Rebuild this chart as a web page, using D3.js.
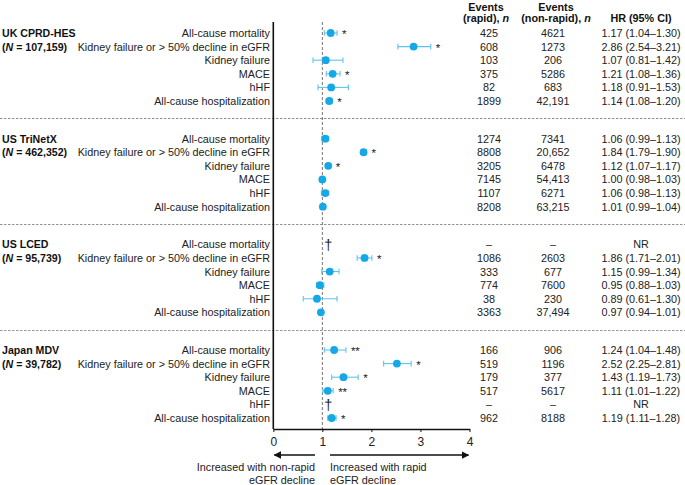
<!DOCTYPE html>
<html>
<head>
<meta charset="utf-8">
<script src="https://cdn.jsdelivr.net/npm/d3@7"></script>
<style>
  html, body { margin: 0; padding: 0; background: #fff; }
  svg { display: block; font-family: "Liberation Sans", Arial, sans-serif; }
</style>
</head>
<body>
<svg id="chart" width="685" height="485"></svg>
<script>
// ---- data ----
const groups = ["UK CPRD-HES", "US TriNetX", "US LCED", "Japan MDV"];
const groupN = ["107,159", "462,352", "95,739", "39,782"];
const outcomes = ["All-cause mortality", "Kidney failure or > 50% decline in eGFR", "Kidney failure", "MACE", "hHF", "All-cause hospitalization"];
const hr = [[1.17, 2.86, 1.07, 1.21, 1.18, 1.14],
            [1.06, 1.84, 1.12, 1.00, 1.06, 1.01],
            [null, 1.86, 1.15, 0.95, 0.89, 0.97],
            [1.24, 2.52, 1.43, 1.11, null, 1.19]];
const ciLow = [[1.04, 2.54, 0.81, 1.08, 0.91, 1.08],
               [0.99, 1.79, 1.07, 0.98, 0.98, 0.99],
               [null, 1.71, 0.99, 0.88, 0.61, 0.94],
               [1.04, 2.25, 1.19, 1.01, null, 1.11]];
const ciHigh = [[1.30, 3.21, 1.42, 1.36, 1.53, 1.20],
                [1.13, 1.90, 1.17, 1.03, 1.13, 1.04],
                [null, 2.01, 1.34, 1.03, 1.30, 1.01],
                [1.48, 2.81, 1.73, 1.22, null, 1.28]];
const eventsRapid = [["425", "608", "103", "375", "82", "1899"],
                     ["1274", "8808", "3205", "7145", "1107", "8208"],
                     ["–", "1086", "333", "774", "38", "3363"],
                     ["166", "519", "179", "517", "–", "962"]];
const eventsNonRapid = [["4621", "1273", "206", "5286", "683", "42,191"],
                        ["7341", "20,652", "6478", "54,413", "6271", "63,215"],
                        ["–", "2603", "677", "7600", "230", "37,494"],
                        ["906", "1196", "377", "5617", "–", "8188"]];
const signif = [["*", "*", "", "*", "", "*"],
                ["", "*", "*", "", "", ""],
                ["†", "*", "", "", "", ""],
                ["**", "*", "*", "**", "†", "*"]];
const xTicks = [0, 1, 2, 3, 4];

// ---- layout ----
const svg = d3.select("#chart");
const W = 685;
const groupStep = 7.77;   // row slots per group
const x = d3.scaleLinear().domain([0, 4]).range([273.3, 469.5]);
const y = d3.scaleLinear().domain([0, 3 * groupStep + 5]).range([33, 418]);
const rowPos = (g, i) => y(g * groupStep + i);
const axisY = 429;
const topY = 22;
const fs = 10.8;
const dotColor = "#14A9E6";
const barColor = "#5EC3EE";
const fmt = d3.format(".2f");

const rows = [];
groups.forEach((gName, g) => {
  outcomes.forEach((o, i) => {
    rows.push({g, i, outcome: o, hr: hr[g][i], lo: ciLow[g][i], hi: ciHigh[g][i],
      er: eventsRapid[g][i], en: eventsNonRapid[g][i], sig: signif[g][i]});
  });
});

// separators
for (let g = 1; g < groups.length; g++) {
  const sy = Math.round(y(g * groupStep - 1.5)) + 0.5;
  svg.append("line").attr("x1", 0).attr("x2", W).attr("y1", sy).attr("y2", sy)
    .attr("stroke", "#777").attr("stroke-width", 0.8).attr("stroke-dasharray", "2.5,1.5");
}

// reference line at 1
svg.append("line").attr("x1", x(1)).attr("x2", x(1)).attr("y1", topY).attr("y2", axisY)
  .attr("stroke", "#666").attr("stroke-width", 0.9).attr("stroke-dasharray", "3,2");

// vertical axis line
svg.append("line").attr("x1", x(0)).attr("x2", x(0)).attr("y1", topY).attr("y2", axisY)
  .attr("stroke", "#111").attr("stroke-width", 1.6);

// x axis
const ax = svg.append("g").attr("transform", `translate(0,${axisY})`)
  .call(d3.axisBottom(x).tickValues(xTicks).tickFormat(d3.format("d")).tickSize(3).tickSizeOuter(0));
ax.select(".domain").attr("stroke", "#111").attr("stroke-width", 1.6);
ax.selectAll(".tick line").attr("stroke", "#111");
ax.selectAll(".tick text").attr("font-size", 12).attr("fill", "#222")
  .attr("font-family", "'Liberation Sans', Arial, sans-serif").attr("dy", "0.95em");

// group labels
groups.forEach((gName, g) => {
  svg.append("text").attr("x", 2).attr("y", rowPos(g, 0) + 4)
    .attr("font-size", 10.6).attr("font-weight", "bold").attr("fill", "#111").text(gName);
  const t = svg.append("text").attr("x", 2).attr("y", rowPos(g, 1) + 4)
    .attr("font-size", 10.6).attr("font-weight", "bold").attr("fill", "#111");
  t.append("tspan").text("(");
  t.append("tspan").attr("font-style", "italic").text("N");
  t.append("tspan").text(` = ${groupN[g]})`);
});

// outcome labels
svg.append("g").selectAll("text").data(rows).join("text")
  .attr("x", 270).attr("y", d => rowPos(d.g, d.i) + 4)
  .attr("text-anchor", "end").attr("font-size", fs).attr("fill", "#222")
  .text(d => d.outcome);

// error bars
const plotted = rows.filter(d => d.hr !== null);
const eb = svg.append("g");
eb.selectAll("line.ci").data(plotted).join("line").attr("class", "ci")
  .attr("x1", d => x(d.lo)).attr("x2", d => x(d.hi))
  .attr("y1", d => rowPos(d.g, d.i)).attr("y2", d => rowPos(d.g, d.i))
  .attr("stroke", barColor).attr("stroke-width", 1.1);
eb.selectAll("line.capl").data(plotted).join("line").attr("class", "capl")
  .attr("x1", d => x(d.lo)).attr("x2", d => x(d.lo))
  .attr("y1", d => rowPos(d.g, d.i) - 2.8).attr("y2", d => rowPos(d.g, d.i) + 2.8)
  .attr("stroke", barColor).attr("stroke-width", 1.1);
eb.selectAll("line.caph").data(plotted).join("line").attr("class", "caph")
  .attr("x1", d => x(d.hi)).attr("x2", d => x(d.hi))
  .attr("y1", d => rowPos(d.g, d.i) - 2.8).attr("y2", d => rowPos(d.g, d.i) + 2.8)
  .attr("stroke", barColor).attr("stroke-width", 1.1);

// points
svg.append("g").selectAll("circle").data(plotted).join("circle")
  .attr("cx", d => x(d.hr)).attr("cy", d => rowPos(d.g, d.i)).attr("r", 3.9)
  .attr("fill", dotColor);

// significance markers
svg.append("g").selectAll("text").data(rows.filter(d => d.sig === "*" || d.sig === "**")).join("text")
  .attr("x", d => x(d.hi) + 5).attr("y", d => rowPos(d.g, d.i) + 5)
  .attr("font-size", 11.5).attr("fill", "#222").text(d => d.sig);
svg.append("g").selectAll("text").data(rows.filter(d => d.sig === "†")).join("text")
  .attr("x", x(1) + 6).attr("y", d => rowPos(d.g, d.i) + 5.5)
  .attr("text-anchor", "middle").attr("font-size", 14.5).attr("fill", "#222").text(d => d.sig);

// table columns
const colRapid = 489, colNon = 553, colHR = 641;
const tbl = svg.append("g").attr("font-size", fs).attr("fill", "#222").attr("text-anchor", "middle");
tbl.selectAll("text.er").data(rows).join("text").attr("class", "er")
  .attr("x", colRapid).attr("y", d => rowPos(d.g, d.i) + 4).text(d => d.er);
tbl.selectAll("text.en").data(rows).join("text").attr("class", "en")
  .attr("x", colNon).attr("y", d => rowPos(d.g, d.i) + 4).text(d => d.en);
tbl.selectAll("text.hr").data(rows).join("text").attr("class", "hr")
  .attr("x", colHR).attr("y", d => rowPos(d.g, d.i) + 4)
  .text(d => d.hr === null ? "NR" : `${fmt(d.hr)} (${fmt(d.lo)}–${fmt(d.hi)})`);

// headers
const hdr = svg.append("g").attr("font-size", fs).attr("font-weight", "bold").attr("fill", "#111").attr("text-anchor", "middle");
hdr.append("text").attr("x", 486).attr("y", 10.5).text("Events");
const h2 = hdr.append("text").attr("x", 486).attr("y", 21.5);
h2.append("tspan").text("(rapid), ");
h2.append("tspan").attr("font-style", "italic").text("n");
hdr.append("text").attr("x", 556).attr("y", 10.5).text("Events");
const h3 = hdr.append("text").attr("x", 556).attr("y", 21.5);
h3.append("tspan").text("(non-rapid), ");
h3.append("tspan").attr("font-style", "italic").text("n");
hdr.append("text").attr("x", 641).attr("y", 21.5).text("HR (95% CI)");

// arrows
const defs = svg.append("defs");
defs.append("marker").attr("id", "ah").attr("viewBox", "0 0 10 10").attr("refX", 9).attr("refY", 5)
  .attr("markerWidth", 5).attr("markerHeight", 5).attr("orient", "auto-start-reverse")
  .append("path").attr("d", "M0,0 L10,5 L0,10 z").attr("fill", "#111");
const arrY = 455;
svg.append("line").attr("x1", 315).attr("x2", x(0) + 1).attr("y1", arrY).attr("y2", arrY)
  .attr("stroke", "#111").attr("stroke-width", 1.5).attr("marker-end", "url(#ah)");
svg.append("line").attr("x1", 330).attr("x2", x(4) - 1).attr("y1", arrY).attr("y2", arrY)
  .attr("stroke", "#111").attr("stroke-width", 1.5).attr("marker-end", "url(#ah)");

const lt = svg.append("g").attr("font-size", fs).attr("fill", "#222");
lt.append("text").attr("x", 315).attr("y", 471).attr("text-anchor", "end").text("Increased with non-rapid");
lt.append("text").attr("x", 315).attr("y", 484).attr("text-anchor", "end").text("eGFR decline");
lt.append("text").attr("x", 330).attr("y", 471).text("Increased with rapid");
lt.append("text").attr("x", 330).attr("y", 484).text("eGFR decline");
</script>
</body>
</html>
